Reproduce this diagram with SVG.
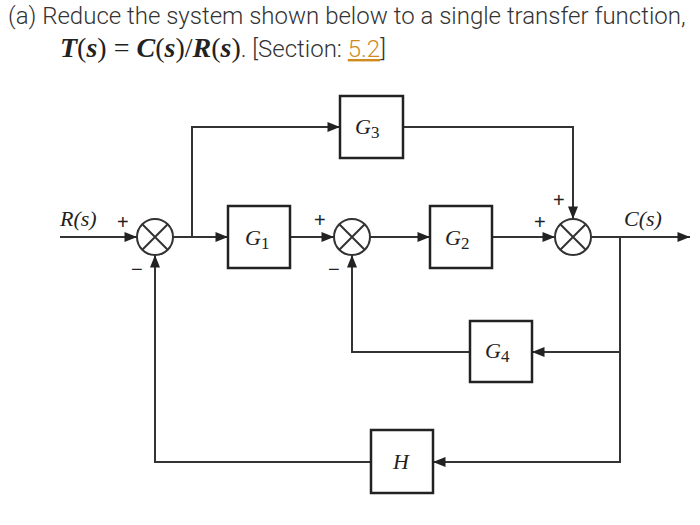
<svg xmlns="http://www.w3.org/2000/svg" width="700" height="525" viewBox="0 0 700 525">
<style>
.hd{font-family:Roboto,"Liberation Sans",sans-serif;font-size:24px;fill:#333;font-weight:300}
.mt{font-family:"Liberation Serif",serif;font-style:italic;font-size:28px;fill:#222;font-weight:bold}
.lb{font-family:"Liberation Serif",serif;font-style:italic;font-size:22px;fill:#222}
.sg{font-family:"Liberation Sans",sans-serif;font-size:20px;fill:#222}
.bx{fill:#fff;stroke:#222;stroke-width:2.5}
.ln{fill:none;stroke:#333;stroke-width:2}
</style>
<defs><marker id="b" viewBox="0 0 10 8" refX="10" refY="4" markerWidth="16" markerHeight="10" markerUnits="userSpaceOnUse" orient="auto"><path d="M0,0L10,4L0,8z" fill="#222"/></marker></defs>
<text class="hd" x="8" y="24">(a)  Reduce the system shown below to a single transfer function,</text>
<text x="60" y="57"><tspan class="mt">T</tspan><tspan class="mt" style="font-style:normal;font-weight:normal">(</tspan><tspan class="mt">s</tspan><tspan class="mt" style="font-style:normal;font-weight:normal">) = </tspan><tspan class="mt">C</tspan><tspan class="mt" style="font-style:normal;font-weight:normal">(</tspan><tspan class="mt">s</tspan><tspan class="mt" style="font-style:normal;font-weight:normal">)/</tspan><tspan class="mt">R</tspan><tspan class="mt" style="font-style:normal;font-weight:normal">(</tspan><tspan class="mt">s</tspan><tspan class="mt" style="font-style:normal;font-weight:normal">)</tspan><tspan class="hd">. [Section: </tspan><tspan class="hd" style="fill:#d08a1e;text-decoration:underline">5.2</tspan><tspan class="hd">]</tspan></text>
<g id="connectors">
<path class="ln" d="M60,237H137" marker-end="url(#b)"/>
<path class="ln" d="M173,237H228" marker-end="url(#b)"/>
<path class="ln" d="M192,237V127H340" marker-end="url(#b)"/>
<path class="ln" d="M290,237H334" marker-end="url(#b)"/>
<path class="ln" d="M370,237H430" marker-end="url(#b)"/>
<path class="ln" d="M492,237H555" marker-end="url(#b)"/>
<path class="ln" d="M403,127H573V219" marker-end="url(#b)"/>
<path class="ln" d="M591,237H690" marker-end="url(#b)"/>
<path class="ln" d="M620,237V352H532" marker-end="url(#b)"/>
<path class="ln" d="M620,352V462H433" marker-end="url(#b)"/>
<path class="ln" d="M470,352H352V255" marker-end="url(#b)"/>
<path class="ln" d="M371,462H155V255" marker-end="url(#b)"/>
</g>
<g id="sum1"><circle class="ln" cx="155" cy="237" r="18"/><path class="ln" d="M142.3,224.3L167.7,249.7M167.7,224.3L142.3,249.7"/></g>
<g id="sum2"><circle class="ln" cx="352" cy="237" r="18"/><path class="ln" d="M339.3,224.3L364.7,249.7M364.7,224.3L339.3,249.7"/></g>
<g id="sum3"><circle class="ln" cx="573" cy="237" r="18"/><path class="ln" d="M560.3,224.3L585.7,249.7M585.7,224.3L560.3,249.7"/></g>
<g id="G1"><rect class="bx" x="228" y="206" width="62" height="62"/><text class="lb" x="245" y="245">G<tspan font-size="17" font-style="normal" dy="4">1</tspan></text></g>
<g id="G2"><rect class="bx" x="430" y="206" width="62" height="62"/><text class="lb" x="445" y="245">G<tspan font-size="17" font-style="normal" dy="4">2</tspan></text></g>
<g id="G3"><rect class="bx" x="340" y="96" width="63" height="62"/><text class="lb" x="355" y="134">G<tspan font-size="17" font-style="normal" dy="4">3</tspan></text></g>
<g id="G4"><rect class="bx" x="470" y="321" width="62" height="61"/><text class="lb" x="485" y="358">G<tspan font-size="17" font-style="normal" dy="4">4</tspan></text></g>
<g id="H"><rect class="bx" x="371" y="430" width="62" height="63"/><text class="lb" x="393" y="469">H</text></g>
<text class="lb" x="60" y="226">R(s)</text>
<text class="lb" x="624" y="226">C(s)</text>
<g class="sg"><text x="117" y="229">+</text><text x="131" y="276">−</text><text x="314" y="227">+</text><text x="328" y="276">−</text><text x="553" y="207">+</text><text x="534" y="229">+</text></g>
</svg>
